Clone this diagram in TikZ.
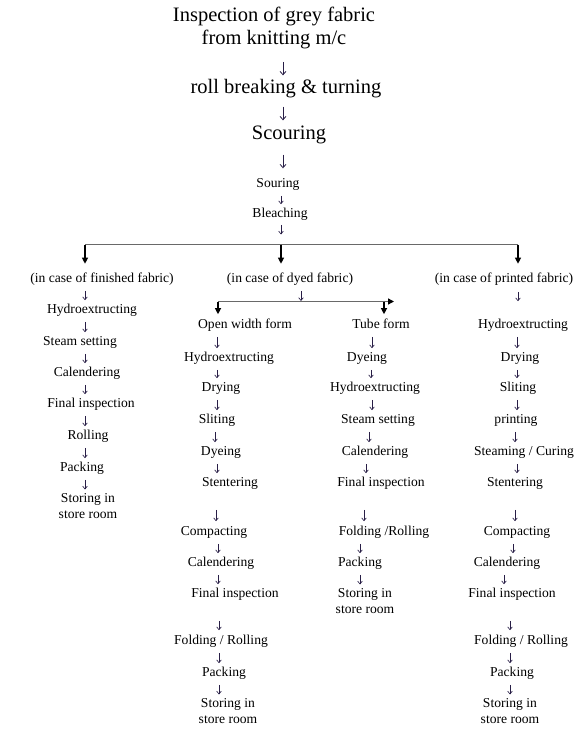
\documentclass[tikz,border=0pt]{standalone}
\usepackage{fontspec}
\setmainfont{Liberation Serif}
\usetikzlibrary{arrows.meta}
\definecolor{arrowcol}{RGB}{40,30,70}
\definecolor{linegray}{RGB}{105,105,105}
\tikzset{
    big/.style={font=\fontsize{20.5}{23}\selectfont,inner sep=0pt,text height=14.4pt,text depth=4.1pt},
    small/.style={font=\fontsize{13.6}{16}\selectfont,inner sep=0pt,text height=9.5pt,text depth=2.7pt},
    twoline/.style={font=\fontsize{13.6}{16}\selectfont,inner sep=0pt,align=center,anchor=north},
    flow/.style={draw=arrowcol,line width=0.65pt,-{Straight Barb[length=2.8pt,width=4.6pt]},shorten <=5pt,shorten >=4pt},
    bigflow/.style={draw=arrowcol,line width=0.8pt,-{Straight Barb[length=3.4pt,width=6pt]}},
    late/.style={shorten <=20pt,shorten >=5pt},
    early/.style={shorten <=6pt,shorten >=18pt},
    branch/.style={draw=linegray,line width=1.4pt},
    drop/.style={draw=black,line width=1.1pt,-{Triangle[length=6pt,width=6pt]}}
}
\begin{document}
\begin{tikzpicture}[x=1pt,y=-1pt]
                    \useasboundingbox (0,0) rectangle (578,746);
                    \begin{scope}[yshift=-1.5pt]
                    % main line
                    \node[big,align=center,anchor=north,text height=,text depth=] (grey) at (274,5.8) {Inspection of grey fabric\\from knitting m/c};
                    \node[big] (roll) at (286,87) {roll breaking \& turning};
                    \node[big] (scour) at (289,133) {Scouring};
                    \node[small] (sour) at (278,183) {Souring};
                    \node[small] (bleach) at (280,213) {Bleaching};
                    \draw[bigflow,shorten <=12.4pt,shorten >=3.7pt] (grey.south -| 283,0) -- (roll.north -| 283,0);
                    \draw[bigflow,shorten <=8.7pt,shorten >=4.7pt] (roll.south -| 283,0) -- (scour.north -| 283,0);
                    \draw[bigflow,shorten <=10.7pt,shorten >=9.9pt] (scour.south -| 283,0) -- (sour.north -| 283,0);
                    \draw[flow] (sour.south -| 281,0) -- (bleach.north -| 281,0);
                    % three cases
                    \coordinate (split) at (281,243);
                    \coordinate (bl) at (85,243);
                    \coordinate (br) at (518,243);
                    \node[small] (fin) at (102,278) {(in case of finished fabric)};
                    \node[small] (dye) at (290,278) {(in case of dyed fabric)};
                    \node[small] (prt) at (504,278) {(in case of printed fabric)};
                    \draw[flow,shorten <=4pt,shorten >=10pt] (bleach.south -| split) -- (split);
                    \draw[branch] (bl) -- (br);
                    \draw[drop,shorten >=9.5pt] (bl) -- (bl |- fin.north);
                    \draw[drop,shorten >=9.5pt] (split) -- (split |- dye.north);
                    \draw[drop,shorten >=9.5pt] (br) -- (br |- prt.north);
                    % finished fabric
                    \node[small] (f1) at (92,309) {Hydroextructing};
                    \node[small] (f2) at (80,341) {Steam setting};
                    \node[small] (f3) at (87,372) {Calendering};
                    \node[small] (f4) at (91,403) {Final inspection};
                    \node[small] (f5) at (88,435) {Rolling};
                    \node[small] (f6) at (82,467) {Packing};
                    \node[twoline] (f7) at (88,492) {Storing in\\store room};
                    % dyed fabric
                    \coordinate (fork) at (301,300);
                    \coordinate (ol) at (218,300);
                    \coordinate (tx) at (384,300);
                    \coordinate (tr) at (394,300);
                    \draw[flow,shorten >=0.5pt] (dye.south -| fork) -- (fork);
                    \draw[branch,-{Triangle[length=6pt,width=6pt,color=black]}] (ol) -- (tr);
                    \node[small] (o0) at (245,324) {Open width form};
                    \node[small] (o1) at (229,357) {Hydroextructing};
                    \node[small] (o2) at (221,387) {Drying};
                    \node[small] (o3) at (217,419) {Sliting};
                    \node[small] (o4) at (221,451) {Dyeing};
                    \node[small] (o5) at (230,482) {Stentering};
                    \node[small] (o6) at (214,531) {Compacting};
                    \node[small] (o7) at (221,562) {Calendering};
                    \node[small] (o8) at (235,593) {Final inspection};
                    \node[small] (o9) at (221,640) {Folding / Rolling};
                    \node[small] (o10) at (224,672) {Packing};
                    \node[twoline] (o11) at (228,697) {Storing in\\store room};
                    \node[small] (t0) at (381,324) {Tube form};
                    \node[small] (t1) at (367,357) {Dyeing};
                    \node[small] (t2) at (375,387) {Hydroextructing};
                    \node[small] (t3) at (378,419) {Steam setting};
                    \node[small] (t4) at (375,451) {Calendering};
                    \node[small] (t5) at (381,482) {Final inspection};
                    \node[small] (t6) at (384,531) {Folding /Rolling};
                    \node[small] (t7) at (360,562) {Packing};
                    \node[twoline] (t8) at (365,587) {Storing in\\store room};
                    \draw[drop,shorten >=5pt] (ol) -- (ol |- o0.north);
                    \draw[drop,shorten >=5pt] (tx) -- (tx |- t0.north);
                    % printed fabric
                    \node[small] (p1) at (523,324) {Hydroextructing};
                    \node[small] (p2) at (520,357) {Drying};
                    \node[small] (p3) at (518,387) {Sliting};
                    \node[small] (p4) at (516,419) {printing};
                    \node[small] (p5) at (524,451) {Steaming / Curing};
                    \node[small] (p6) at (515,482) {Stentering};
                    \node[small] (p7) at (517,531) {Compacting};
                    \node[small] (p8) at (507,562) {Calendering};
                    \node[small] (p9) at (512,593) {Final inspection};
                    \node[small] (p10) at (521,640) {Folding / Rolling};
                    \node[small] (p11) at (512,672) {Packing};
                    \node[twoline] (p12) at (510,697) {Storing in\\store room};
                    \draw[flow,early] (prt.south -| 518,0) -- (p1.north -| 518,0);
                    % steps
                    \foreach \a/\b/\x in {fin/f1/85,f1/f2/85,f2/f3/85,f3/f4/85,f4/f5/85,f5/f6/85,f6/f7/85,
                        o0/o1/217,o1/o2/217,o2/o3/217,o3/o4/215,o4/o5/217,o6/o7/218,o7/o8/218,o9/o10/219,o10/o11/219,
                        t0/t1/372,t1/t2/371,t2/t3/372,t3/t4/369,t4/t5/366,t6/t7/360,t7/t8/360,
                        p1/p2/517,p2/p3/517,p3/p4/517,p4/p5/515,p5/p6/517,p7/p8/513,p8/p9/504,p10/p11/510,p11/p12/510}
                        \draw[flow] (\a.south -| \x,0) -- (\b.north -| \x,0);
                    \foreach \a/\b/\x in {o5/o6/216,o8/o9/219,t5/t6/364,p6/p7/515,p9/p10/510}
                        \draw[flow,late] (\a.south -| \x,0) -- (\b.north -| \x,0);
                    \end{scope}
                \end{tikzpicture}
\end{document}
